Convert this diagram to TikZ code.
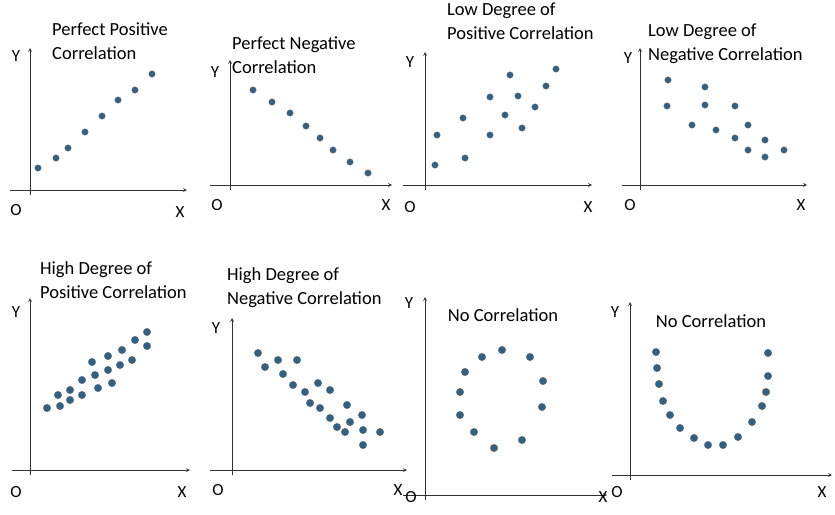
\documentclass[tikz,border=0pt]{standalone}
\usepackage{fontspec}
\setmainfont{Carlito}
\definecolor{dotc}{RGB}{48,98,135}
\begin{document}
\begin{tikzpicture}[x=1pt,y=-1pt,
  ax/.style={draw=black!80,line width=0.7pt,-stealth},
  lbl/.style={font=\fontsize{17}{19}\selectfont,inner sep=0pt},
  ttl/.style={font=\fontsize{18.5}{24}\selectfont,inner sep=0pt,align=left},
  dot/.style={circle,fill=dotc,draw=black!60,line width=0.3pt,minimum size=6.5pt,inner sep=0pt},
  bdot/.style={dot,minimum size=7.5pt}]
\useasboundingbox[fill=white] (0,0) rectangle (835,514);
\newcommand\panel[7]{%
  \coordinate (#1yt) at (#2,#3);
  \coordinate (#1yb) at (#2,#4);
  \coordinate (#1xl) at (#6,#5);
  \coordinate (#1xr) at (#7,#5);
  \draw[ax] (#1yb) -- (#1yt);
  \draw[ax] (#1xl) -- (#1xr);
}
% Panel 1
\panel{a}{30}{48}{195}{190}{10}{187}
\node[lbl] (aY) at (16,56) {Y};
\node[lbl] (aO) at (16,210) {O};
\node[lbl] (aX) at (180,212) {X};
\node[ttl,anchor=north west] (at) at (52,23) {Perfect Positive\\Correlation};
\foreach \p [count=\i] in {(38,168),(56,158),(68,148),(85,132),(102,116),(118,100),(135,90),(152,74)}
  \node[dot] (ad\i) at \p {};
% Panel 2
\panel{b}{230}{60}{190}{185}{210}{392}
\node[lbl] (bY) at (215,72) {Y};
\node[lbl] (bO) at (217,205) {O};
\node[lbl] (bX) at (386,205) {X};
\node[ttl,anchor=north west] (bt) at (232,37) {Perfect Negative\\Correlation};
\foreach \p [count=\i] in {(253,90),(272,102),(290,113),(306,126),(320,138),(333,150),(350,162),(368,173)}
  \node[dot] (bd\i) at \p {};
% Panel 3
\panel{c}{425}{52}{190}{185}{403}{592}
\node[lbl] (cY) at (410,62) {Y};
\node[lbl] (cO) at (410,207) {O};
\node[lbl] (cX) at (588,207) {X};
\node[ttl,anchor=north west] (ct) at (447,3) {Low Degree of\\Positive Correlation};
\foreach \p [count=\i] in {(435,165),(437,135),(465,158),(463,118),(490,135),(490,97),(505,115),(510,75),(518,96),(522,128),(535,107),(546,86),(556,69)}
  \node[dot] (cd\i) at \p {};
% Panel 4
\panel{d}{640}{48}{190}{185}{622}{807}
\node[lbl] (dY) at (628,58) {Y};
\node[lbl] (dO) at (630,205) {O};
\node[lbl] (dX) at (801,205) {X};
\node[ttl,anchor=north west] (dt) at (648,24) {Low Degree of\\Negative Correlation};
\foreach \p [count=\i] in {(668,80),(667,106),(692,125),(705,87),(705,105),(716,130),(735,106),(735,138),(748,125),(748,150),(765,140),(765,157),(784,150)}
  \node[dot] (dd\i) at \p {};
% Panel 5
\panel{e}{30}{298}{475}{470}{12}{190}
\node[lbl] (eY) at (16,312) {Y};
\node[lbl] (eO) at (16,492) {O};
\node[lbl] (eX) at (182,492) {X};
\node[ttl,anchor=north west] (et) at (40,261) {High Degree of\\Positive Correlation};
\foreach \p [count=\i] in {(47,408),(60,406),(58,395),(70,390),(70,400),(82,380),(82,395),(92,362),(95,375),(98,388),(108,356),(108,370),(112,383),(122,350),(120,365),(135,340),(132,360),(147,332),(147,346)}
  \node[bdot] (ed\i) at \p {};
% Panel 6
\panel{f}{232}{318}{475}{470}{210}{407}
\node[lbl] (fY) at (216,328) {Y};
\node[lbl] (fO) at (218,490) {O};
\node[lbl] (fX) at (398,490) {X};
\node[ttl,anchor=north west] (ft) at (227,267) {High Degree of\\Negative Correlation};
\foreach \p [count=\i] in {(258,353),(265,367),(278,360),(283,374),(297,360),(293,385),(305,392),(318,383),(310,403),(320,408),(330,390),(330,418),(337,427),(347,405),(350,422),(345,432),(362,415),(363,430),(363,445),(380,432)}
  \node[bdot] (fd\i) at \p {};
% Panel 7
\panel{g}{425}{297}{500}{495}{403}{607}
\node[lbl] (gY) at (409,303) {Y};
\node[lbl] (gO) at (411,497) {O};
\node[lbl] (gX) at (603,497) {X};
\node[ttl] (gt) at (503,315) {No Correlation};
\foreach \p [count=\i] in {(502,350),(482,357),(530,357),(465,372),(543,381),(460,392),(542,407),(460,415),(474,432),(522,440),(494,448)}
  \node[bdot] (gd\i) at \p {};
% Panel 8
\panel{h}{630}{302}{480}{475}{612}{832}
\node[lbl] (hY) at (615,312) {Y};
\node[lbl] (hO) at (617,492) {O};
\node[lbl] (hX) at (822,492) {X};
\node[ttl] (ht) at (711,321) {No Correlation};
\foreach \p [count=\i] in {(656,352),(657,368),(659,384),(663,401),(670,415),(680,428),(694,438),(708,445),(723,445),(738,437),(752,422),(762,406),(766,392),(768,376),(768,353)}
  \node[bdot] (hd\i) at \p {};
\end{tikzpicture}
\end{document}
